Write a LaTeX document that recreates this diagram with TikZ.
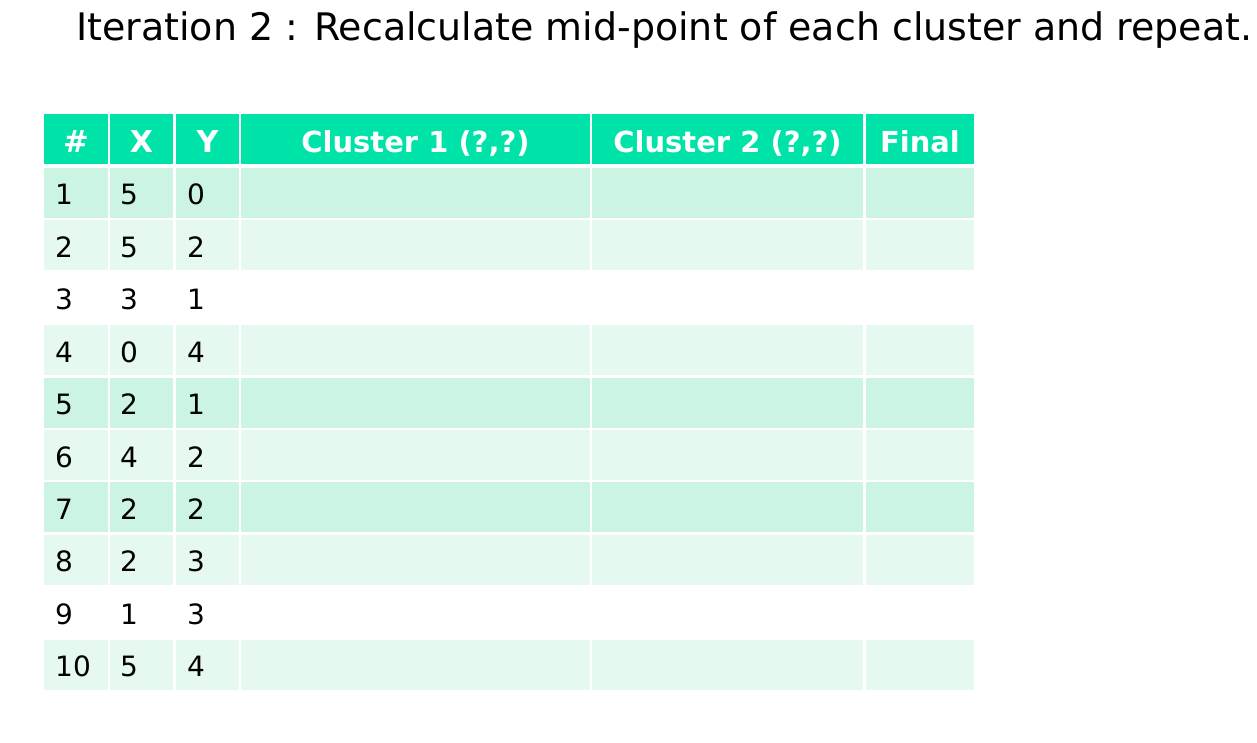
\documentclass[tikz,border=0pt]{standalone}
\usepackage{fontspec}
\setmainfont{DejaVu Sans}
\definecolor{hdr}{HTML}{00E3A8}
\definecolor{dk}{HTML}{CCF4E2}
\definecolor{lt}{HTML}{E6F9F1}
\begin{document}
\begin{tikzpicture}[x=1pt,y=-1pt,
  cell/.style={inner sep=0pt,anchor=center},
  htxt/.style={font=\fontsize{27}{30}\selectfont\bfseries,text=white},
  btxt/.style={font=\fontsize{28}{32}\selectfont,text=black}]
\useasboundingbox (0,0) rectangle (1257,743);
\node[cell,anchor=base west,font=\fontsize{33}{38}\selectfont] (title) at (76,41) {\resizebox{1176pt}{!}{Iteration 2 : Recalculate mid-point of each cluster and repeat.}};
\def\colL{{44,110,176,241,592,866}}
\def\colR{{108,173,239,590,863,974}}
% header
\foreach \c/\t in {0/\#,1/X,2/Y,3/{Cluster 1 (?,?)},4/{Cluster 2 (?,?)},5/Final}{
  \pgfmathsetmacro\l{\colL[\c]}\pgfmathsetmacro\r{\colR[\c]}
  \fill[hdr] (\l,114) rectangle (\r,164);
  \node[cell,htxt,anchor=base] (h\c) at ({(\l+\r)/2},153) {\resizebox{!}{22pt}{\t}};
}
\foreach \i/\a/\b/\cc/\col in {1/1/5/0/dk,2/2/5/2/lt,3/3/3/1/white,4/4/0/4/lt,5/5/2/1/dk,6/6/4/2/lt,7/7/2/2/dk,8/8/2/3/lt,9/9/1/3/white,10/10/5/4/lt}{
  \pgfmathsetmacro\t{168+(\i-1)*52.4}
  \pgfmathsetmacro\bt{\t+50}
  \foreach \c in {0,...,5}{
    \pgfmathsetmacro\l{\colL[\c]}\pgfmathsetmacro\r{\colR[\c]}
    \fill[\col] (\l,\t) rectangle (\r,\bt);
  }
  \node[cell,btxt,anchor=base west] (a\i) at (55,\t+37) {\a};
  \node[cell,btxt,anchor=base] (b\i) at (129,\t+37) {\b};
  \node[cell,btxt,anchor=base] (c\i) at (196,\t+37) {\cc};
}
\end{tikzpicture}
\end{document}
